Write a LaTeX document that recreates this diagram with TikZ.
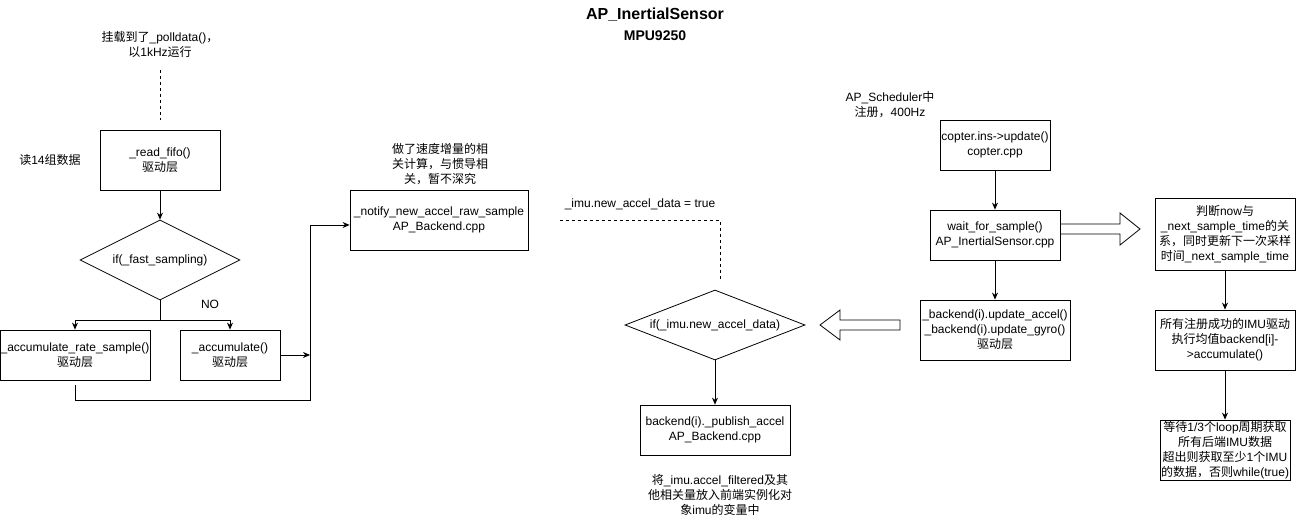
\documentclass[tikz,border=0pt]{standalone}
\usepackage{fontspec}
\setmainfont{Liberation Sans}
\newfontfamily\cjk{Noto Sans CJK SC}
\newcommand\zh[1]{{\cjk #1}}
\usepackage{tikz}
\usetikzlibrary{arrows.meta}
\usetikzlibrary{shapes.geometric}
\usetikzlibrary{positioning}
\tikzset{box/.style = {draw, align=center, inner xsep=0pt, inner ysep=1pt, minimum width=#1},
         box/.default = 120,
         cond/.style = {draw, diamond, align=center, inner sep=0pt},
         note/.style = {align=center, inner sep=1pt},
         flow/.style = {-{Stealth[length=7pt, width=6pt]}},
         hollow/.style = {draw, line join=miter}}

\begin{document}
\begin{tikzpicture}[x=1pt, y=-1pt, line width=0.8pt,
    every node/.append style={font=\fontsize{12}{15}\selectfont}]
      \useasboundingbox (0, 0) rectangle (1296, 530);

      % title
      \node [note, font=\bfseries\fontsize{16}{19}\selectfont] (title) at (655, 15) {AP\_InertialSensor};
      \node [note, font=\bfseries\fontsize{14}{17}\selectfont] (subtitle) at (655, 36) {MPU9250};

      % driver side, 1kHz
      \node [note] (poll) at (160, 44) {\zh{挂载到了}\_polldata()\zh{，}\\\zh{以}1kHz\zh{运行}};
      \coordinate (pollend) at (160, 120);
      \node [box, minimum height=60] (readfifo) at (160, 160) {\_read\_fifo()\\\zh{驱动层}};
      \node [note] (readnote) at (50, 160) {\zh{读}14\zh{组数据}};
      \node [cond, aspect=2, minimum width=160, minimum height=80] (fast) at (160, 260) {if(\_fast\_sampling)};
      \node [note] (no) at (210, 304) {NO};
      \node [box=150, minimum height=50] (rate) at (75, 355) {\_accumulate\_rate\_sample()\\\zh{驱动层}};
      \node [box=100, minimum height=50] (acc) at (230, 355) {\_accumulate()\\\zh{驱动层}};
      \coordinate (merge) at (310, 400);
      \node [box=178, minimum height=60] (notify) at (439, 220) {\_notify\_new\_accel\_raw\_sample\\AP\_Backend.cpp};
      \node [note] (notifynote) at (440, 164) {\zh{做了速度增量的相}\\\zh{关计算，与惯导相}\\\zh{关，暂不深究}};

      \draw [dashed] (160, 70) -- (pollend);
      \draw [flow] (readfifo) -- (fast);
      \draw [flow] (fast.south) -- ++(0, 20) -| (rate.north);
      \draw [flow] (fast.south) -- ++(0, 20) -| (acc.north);
      \draw [flow] (acc.east) -- (acc.east -| merge);
      \draw [flow] ([yshift=-5pt]rate.south) |- (merge) |- ([yshift=-5pt]notify.west);

      % flag
      \coordinate (flagstart) at (560, 220);
      \coordinate (flagend) at (720, 280);
      \node [note] (flag) at (640, 204) {\_imu.new\_accel\_data = true};
      \draw [dashed] (flagstart) -| (flagend);

      % front end
      \node [cond, aspect=2.57, minimum width=180, minimum height=70] (imuif) at (715, 325) {if(\_imu.new\_accel\_data)};
      \node [box=150, minimum height=50] (publish) at (715, 430) {backend(i).\_publish\_accel\\AP\_Backend.cpp};
      \node [note] (publishnote) at (720, 495) {\zh{将}\_imu.accel\_filtered\zh{及其}\\\zh{他相关量放入前端实例化对}\\\zh{象}imu\zh{的变量中}};
      \draw [flow] (imuif) -- (publish);

      % scheduler, 400Hz
      \node [note] (sched) at (890, 105) {AP\_Scheduler\zh{中}\\\zh{注册，}400Hz};
      \node [box=110, minimum height=50] (copter) at (995, 145) {copter.ins->update()\\copter.cpp};
      \node [box=130, minimum height=50] (wait) at (995, 235) {wait\_for\_sample()\\AP\_InertialSensor.cpp};
      \node [box=150, minimum height=60] (update) at (995, 330) {\_backend(i).update\_accel()\\\_backend(i).update\_gyro()\\\zh{驱动层}};
      \draw [flow] (copter) -- (wait);
      \draw [flow] (wait) -- (update);

      \node [box=140, minimum height=72] (judge) at (1225, 234) {\zh{判断}now\zh{与}\\\_next\_sample\_time\zh{的关}\\\zh{系，同时更新下一次采样}\\\zh{时间}\_next\_sample\_time};
      \node [box=140, minimum height=60] (all) at (1225, 340) {\zh{所有注册成功的}IMU\zh{驱动}\\\zh{执行均值}backend[i]-\\>accumulate()};
      \node [box=130, minimum height=60] (wait3) at (1225, 450) {\zh{等待}1/3\zh{个}loop\zh{周期获取}\\\zh{所有后端}IMU\zh{数据}\\\zh{超出则获取至少}1\zh{个}IMU\\\zh{的数据，否则}while(true)};
      \draw [flow] (judge) -- (all);
      \draw [flow] (all) -- (wait3);

      % hollow arrows
      \draw [hollow] (900, 320) -- (840, 320) -- (840, 310) -- (820, 325) -- (840, 340) -- (840, 330) -- (900, 330) -- cycle;
      \draw [hollow] (wait.east |- 0, 224) -- (1120, 224) -- (1120, 213) -- (1140, 229) -- (1120, 245) -- (1120, 234) -- (wait.east |- 0, 234);
\end{tikzpicture}
\end{document}
